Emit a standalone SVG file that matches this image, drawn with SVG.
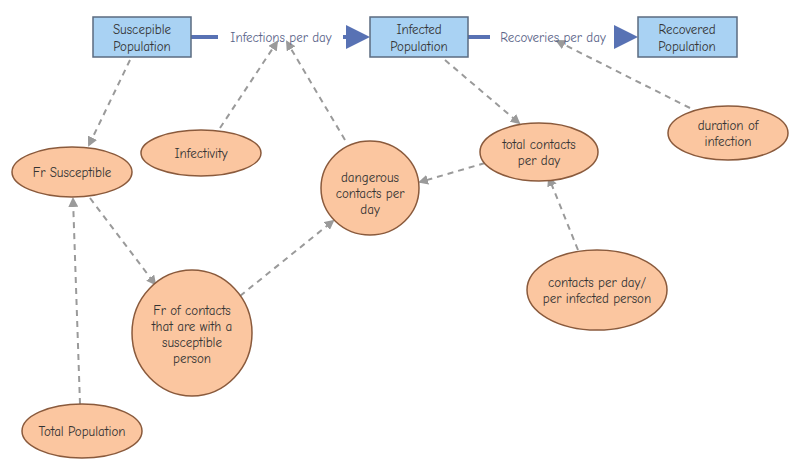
<svg xmlns="http://www.w3.org/2000/svg" width="800" height="473" viewBox="0 0 800 473">
<style>
.stock{fill:#a9d2f3;stroke:#5b6b80;stroke-width:1.5}
.aux{fill:#fbc6a0;stroke:#8a5a3c;stroke-width:1.5}
text{font-family:"Comic Neue","Liberation Sans",sans-serif;font-size:13px;text-anchor:middle;fill:#333}
.flowlbl{fill:#5a6488;font-size:13px}
.flow{stroke:#5872b4;stroke-width:4;fill:none}
.link{stroke:#9a9a9a;stroke-width:2;stroke-dasharray:6,5;fill:none}
</style>
<defs>
<marker id="fa" markerWidth="6" markerHeight="6" refX="4" refY="3" orient="auto"><path d="M0,0L6,3L0,6z" fill="#5872b4"/></marker>
<marker id="la" markerWidth="10" markerHeight="10" refX="8" refY="5" orient="auto" markerUnits="userSpaceOnUse"><path d="M0,0L10,5L0,10z" fill="#9a9a9a"/></marker>
</defs>
<rect width="800" height="473" fill="#fff"/>
<g id="connectors">
<path class="flow" d="M191,37H218"/>
<path class="flow" d="M343,37H362" marker-end="url(#fa)"/>
<path class="flow" d="M468,37H490"/>
<path class="flow" d="M614,37H630" marker-end="url(#fa)"/>
<path class="link" d="M130,60L89,145" marker-end="url(#la)"/>
<path class="link" d="M220,128L277,42" marker-end="url(#la)"/>
<path class="link" d="M345,140L287,42" marker-end="url(#la)"/>
<path class="link" d="M445,60L519,123" marker-end="url(#la)"/>
<path class="link" d="M485,163L420,182" marker-end="url(#la)"/>
<path class="link" d="M578,250L549,178" marker-end="url(#la)"/>
<path class="link" d="M690,108L557,41" marker-end="url(#la)"/>
<path class="link" d="M90,198L155,284" marker-end="url(#la)"/>
<path class="link" d="M240,296L333,221" marker-end="url(#la)"/>
<path class="link" d="M80,404L73,199" marker-end="url(#la)"/>
</g>
<g id="flowlabels">
<text class="flowlbl" x="281" y="42">Infections per day</text>
<text class="flowlbl" x="553" y="42">Recoveries per day</text>
</g>
<g id="susceptible"><rect class="stock" x="93" y="17" width="98" height="40"/><text x="142" y="34">Suscepible</text><text x="142" y="51">Population</text></g>
<g id="infected"><rect class="stock" x="370" y="17" width="98" height="40"/><text x="419" y="34">Infected</text><text x="419" y="51">Population</text></g>
<g id="recovered"><rect class="stock" x="638" y="17" width="99" height="40"/><text x="687" y="34">Recovered</text><text x="687" y="51">Population</text></g>
<g id="frsusceptible"><ellipse class="aux" cx="72" cy="172" rx="60" ry="25"/><text x="72" y="177">Fr Susceptible</text></g>
<g id="infectivity"><ellipse class="aux" cx="201" cy="153" rx="60" ry="23"/><text x="201" y="158">Infectivity</text></g>
<g id="dangerous"><ellipse class="aux" cx="370" cy="188" rx="49" ry="47"/><text x="370" y="182">dangerous</text><text x="370" y="198">contacts per</text><text x="370" y="214">day</text></g>
<g id="totalcontacts"><ellipse class="aux" cx="539" cy="152" rx="59" ry="29"/><text x="539" y="149">total contacts</text><text x="539" y="165">per day</text></g>
<g id="duration"><ellipse class="aux" cx="728" cy="133" rx="60" ry="27"/><text x="728" y="130">duration of</text><text x="728" y="146">infection</text></g>
<g id="contactsper"><ellipse class="aux" cx="597" cy="290" rx="70" ry="40"/><text x="597" y="287">contacts per day/</text><text x="597" y="303">per infected person</text></g>
<g id="frcontacts"><ellipse class="aux" cx="192" cy="333" rx="60" ry="63"/><text x="192" y="315">Fr of contacts</text><text x="192" y="331">that are with a</text><text x="192" y="347">susceptible</text><text x="192" y="363">person</text></g>
<g id="totalpop"><ellipse class="aux" cx="82" cy="431" rx="60" ry="27"/><text x="82" y="436">Total Population</text></g>
</svg>
